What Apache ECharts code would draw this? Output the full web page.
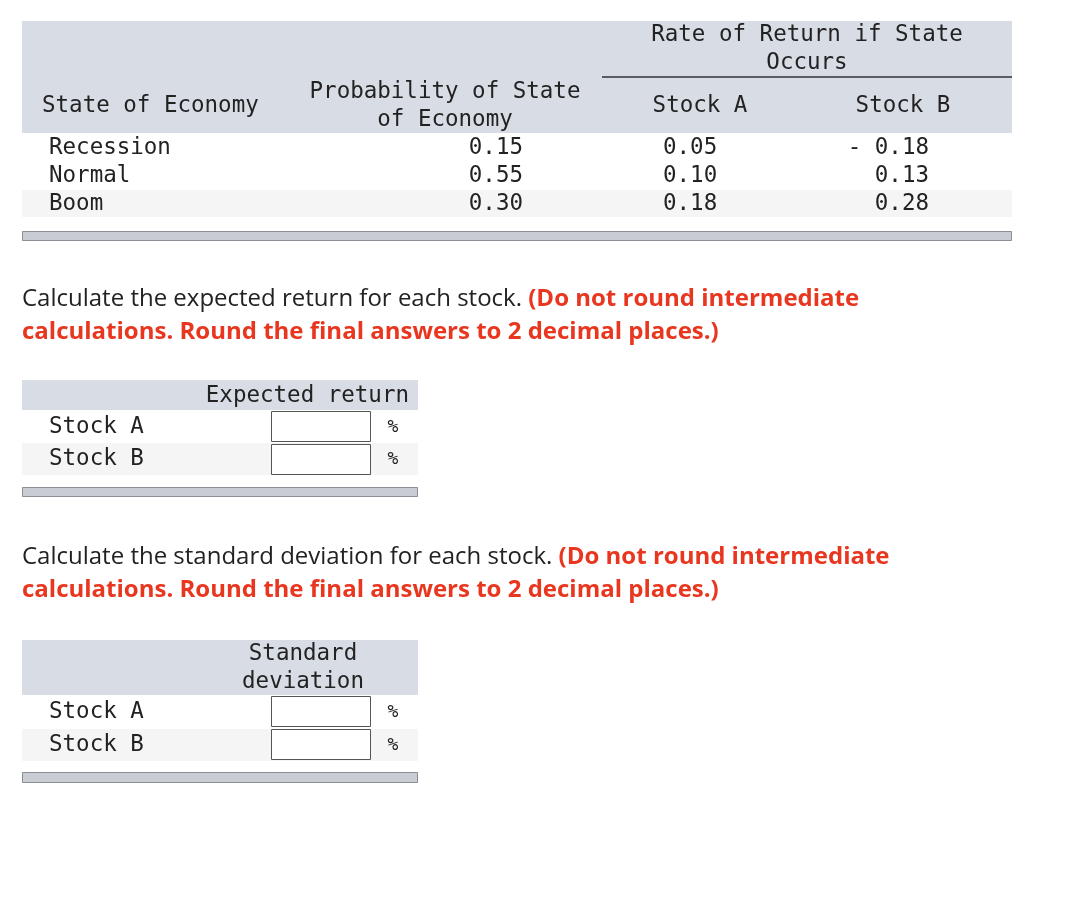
<!DOCTYPE html><html><head><meta charset="utf-8">
<script src="https://cdn.jsdelivr.net/npm/echarts@6/dist/echarts.min.js"></script>
<style>html,body{margin:0;background:#fff}#c{width:1086px;height:924px}</style></head><body><div id="c"></div>
<script>
const states=["Recession","Normal","Boom"];
const probs=["0.15","0.55","0.30"];
const stockA=["0.05","0.10","0.18"];
const stockB=["- 0.18","0.13","0.28"];
const stocks=["Stock A","Stock B"];
const q1=["Calculate the expected return for each stock. ","(Do not round intermediate","calculations. Round the final answers to 2 decimal places.)"];
const q2=["Calculate the standard deviation for each stock. ","(Do not round intermediate","calculations. Round the final answers to 2 decimal places.)"];
const mono='"DejaVu Sans Mono", monospace', sans='"Open Sans", Arial, sans-serif';
const HB='#d8dce5', GR='#f5f5f5', RED='#e8361f';
const g=[];
const rect=(x,y,w,h,fill,stroke)=>g.push({type:'rect',shape:{x,y,width:w,height:h},style:{fill,stroke:stroke||null,lineWidth:1}});
const txt=(x,y,t,o={})=>g.push({type:'text',x,y,style:Object.assign({text:t,font:'22.5px '+mono,fill:'#222',textVerticalAlign:'middle',textAlign:'left'},o)});
rect(22,21,990,112,HB);
rect(22,190,990,27,GR);
g.push({type:'line',shape:{x1:602,y1:77,x2:1012,y2:77},style:{stroke:'#333',lineWidth:1.5}});
txt(807,35,'Rate of Return if State',{textAlign:'center'});
txt(807,63,'Occurs',{textAlign:'center'});
txt(42,106,'State of Economy');
txt(445,92,'Probability of State',{textAlign:'center'});
txt(445,120,'of Economy',{textAlign:'center'});
txt(700,106,'Stock A',{textAlign:'center'});
txt(903,106,'Stock B',{textAlign:'center'});
states.forEach((s,i)=>{const y=148+i*28;
 txt(49,y,s); txt(523,y,probs[i],{textAlign:'right'});
 txt(663,y,stockA[i]); txt(929,y,stockB[i],{textAlign:'right'});});
rect(22.5,231.5,989,9,'#c9cdd3','#8a8f96');
function q(y,p){g.push({type:'text',x:22,y:y,style:{rich:{n:{font:'24px '+sans,fill:'#222'},r:{font:'bold 24px '+sans,fill:RED}},text:'{n|'+p[0]+'}{r|'+p[1]+'}',textVerticalAlign:'middle'}});
 g.push({type:'text',x:22,y:y+33,style:{text:p[2],font:'bold 24px '+sans,fill:RED,textVerticalAlign:'middle'}});}
q(299,q1); q(557,q2);
rect(22,380,396,30,HB);
txt(409,396,'Expected return',{textAlign:'right'});
rect(22,443,396,32,GR);
stocks.forEach((s,i)=>{const y=427+i*32;txt(49,y,s);rect(271.5,411.5+i*33,99,30,'#fff','#555');txt(393,y,'%',{textAlign:'center',font:'18px '+mono});});
rect(22.5,487.5,395,9,'#c9cdd3','#8a8f96');
rect(22,640,396,55,HB);
txt(303,654,'Standard',{textAlign:'center'});
txt(303,682,'deviation',{textAlign:'center'});
rect(22,729,396,32,GR);
stocks.forEach((s,i)=>{const y=712+i*33;txt(49,y,s);rect(271.5,696.5+i*33,99,30,'#fff','#555');txt(393,y,'%',{textAlign:'center',font:'18px '+mono});});
rect(22.5,772.5,395,10,'#c9cdd3','#8a8f96');
const ch=echarts.init(document.getElementById('c'));
ch.setOption({animation:false,graphic:{elements:g}});
</script></body></html>
